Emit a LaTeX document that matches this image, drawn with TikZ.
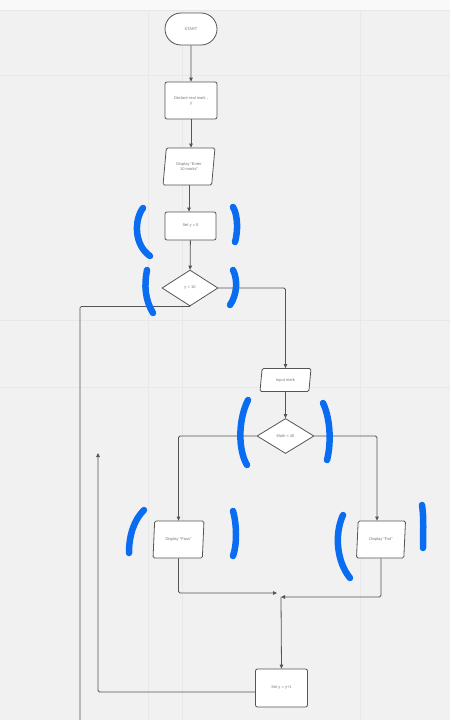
\documentclass[tikz,border=0pt]{standalone}
\usepackage{fontspec}
\setmainfont{Liberation Sans}
\usetikzlibrary{shapes.geometric,shapes.misc,arrows.meta}
\definecolor{bg}{HTML}{F1F1F1}
\definecolor{gridc}{HTML}{E8E8E8}
\definecolor{edge}{HTML}{555555}
\definecolor{txt}{HTML}{777777}
\definecolor{pen}{HTML}{0A6CF0}
\tikzset{
  base/.style={draw=edge, line width=0.8pt, fill=white, text=txt, font=\fontsize{4}{5}\selectfont, align=center, inner sep=0pt},
  term/.style={base, rounded rectangle, minimum width=52pt, minimum height=32pt},
  proc/.style={base, rectangle, rounded corners=2pt},
  io/.style={base, trapezium, trapezium left angle=77, trapezium right angle=103, trapezium stretches=true, rounded corners=1.5pt},
  dec/.style={base, diamond, aspect=1.6},
  conn/.style={draw=edge, line width=0.8pt, rounded corners=1.5pt},
  arr/.style={conn, -{Triangle[length=4pt,width=3.6pt]}},
  penmark/.style={draw=pen, line width=6.5pt, line cap=round}
}
\begin{document}
\begin{tikzpicture}[x=1pt,y=-1pt]
\useasboundingbox (0,0) rectangle (450,720);
\fill[bg] (0,0) rectangle (450,720);
\fill[white!60!bg] (0,0) rectangle (450,10);
\foreach \yy in {10,75,320,387} \draw[gridc, line width=0.6pt] (0,\yy) -- (450,\yy);
\foreach \xx in {148,182,360} \draw[gridc, line width=0.6pt] (\xx,10) -- (\xx,720);

\node[term] (start) at (191,29) {START};
\node[proc, minimum width=52pt, minimum height=37pt] (declare) at (191,100.5) {Declare real mark ,\\y};
\node[io, minimum width=52pt, minimum height=37pt] (display) at (189,166.5) {Display "Enter\\10 marks"};
\node[proc, minimum width=51pt, minimum height=28pt] (sety) at (190.5,226) {Set y = 0};
\node[dec, minimum width=56pt, minimum height=36pt] (cond1) at (190,288) {y < 10};
\node[io, minimum width=51pt, minimum height=23pt] (input) at (285.5,380) {Input mark};
\node[dec, minimum width=57pt, minimum height=35pt] (cond2) at (285.5,436) {Mark < 40};
\node[io, minimum width=51pt, minimum height=37pt] (pass) at (178.5,539.5) {Display "Pass"};
\node[io, minimum width=49pt, minimum height=37pt] (fail) at (381,539.5) {Display "Fail"};
\node[proc, minimum width=52pt, minimum height=38pt] (inc) at (281.5,688) {Set y = y+1};

\coordinate (exit) at (80,722);
\coordinate (m1) at (277,593);
\coordinate (m2) at (281,597);
\coordinate (looptop) at (98,453);

\draw[arr] (start) -- (declare);
\draw[arr] (declare.south) -- (declare.south |- display.north);
\draw[arr] (display.south) -- (display.south |- sety.north);
\draw[arr] (sety) -- (cond1);
\draw[arr] (cond1.east) -| (input.north);
\draw[conn] (cond1.south) -| (exit);
\draw[arr] (input) -- (cond2);
\draw[arr] (cond2.west) -| (pass.north);
\draw[arr] (cond2.east) -| ([xshift=-4pt]fail.north);
\draw[arr] (pass.south) |- (m1);
\draw[arr] (fail.south) |- (m2);
\draw[arr] (m2) -- (inc.north);
\draw[arr] ([yshift=-4pt]inc.west) -| (looptop);

% blue hand-drawn marks
\draw[penmark] (143,208) .. controls (134,220) and (134,245) .. (150,256);
\draw[penmark] (233,207) .. controls (238,215) and (238,232) .. (235,242);
\draw[penmark] (147,270) .. controls (144,285) and (145,300) .. (153,313);
\draw[penmark] (233,270) .. controls (238,280) and (237,295) .. (230,305);
\draw[penmark] (248,400) .. controls (238,420) and (238,450) .. (247,465);
\draw[penmark] (323,403) .. controls (331,420) and (331,445) .. (327,460);
\draw[penmark] (144,510) .. controls (134,520) and (129,535) .. (129,553);
\draw[penmark] (233,511) .. controls (237,525) and (237,545) .. (233,556);
\draw[penmark] (343,515) .. controls (334,535) and (337,562) .. (350,578);
\draw[penmark] (422,505) .. controls (424,518) and (423,535) .. (423,548);
\end{tikzpicture}
\end{document}
